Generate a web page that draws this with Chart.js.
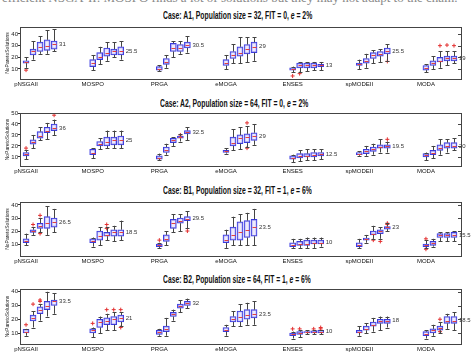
<!DOCTYPE html>
<html><head><meta charset="utf-8">
<script src="https://cdn.jsdelivr.net/npm/chart.js@4.4.0/dist/chart.umd.min.js"></script>
<style>
body{margin:0;background:#fff;width:474px;height:356px;overflow:hidden;position:relative}
.title{position:absolute;white-space:nowrap;font-family:'Liberation Sans Narrow','Liberation Sans',Arial,sans-serif;font-weight:bold;font-size:10px;color:#111;transform-origin:left center}
.cv{position:absolute;left:0}
#toptext{position:absolute;left:2px;top:-10px;white-space:nowrap;font-family:'Liberation Serif',serif;font-size:13px;color:#888}
</style></head><body>
<div id="toptext">efficient NSGA-II: MOSPO finds a lot of solutions but they may not adapt to the chain.</div>
<script>
// ---------- categories & labels ----------
const CATEGORIES = ["pNSGAII","MOSPO","PRGA","eMOGA","ENSES","spMODEII","MODA"];
const Y_TITLE = "NoParetoSolutions";
const TITLES = [
  ["Case: A1, Population size = 32, FIT = 0, ","e"," = 2%"],
  ["Case: A2, Population size = 64, FIT = 0, ","e"," = 2%"],
  ["Case: B1, Population size = 32, FIT = 1, ","e"," = 6%"],
  ["Case: B2, Population size = 64, FIT = 1, ","e"," = 6%"]
];
const TICKS_A1 = [10,20,30,40];
const TICKS_A2 = [10,20,30,40,50];
const TICKS_B1 = [10,20,30,40];
const TICKS_B2 = [10,20,30,40];

// ---------- A1 (5 boxes per algorithm) ----------
const A1_lo  = [11,18,23,23,25, 9,14,17,20,18, 8,11,20,23,24, 10,15,15,16,17, 7,7,8,9,9, 10,11,15,16,17, 7,10,11,13,15];
const A1_q1  = [15,22,25,26,27, 12,18,21,22,22, 9,14,25,25,28, 13,19,21,23,24, 9,11,11,11,12, 13,15,19,21,23, 9,13,16,17,17];
const A1_med = [16,25,29,30,31, 15,20,24,25,25.5, 10,16,28,28,30.5, 15,22,24,27,29, 10,13,13,13,13, 14,17,22,23,25.5, 11,15,17,19,19];
const A1_q3  = [17,27,33,35,34, 18,24,28,27,29, 12,19,32,31,33, 18,25,29,31,33, 11,15,15,15,14, 15,19,24,25,28, 13,17,20,21,21];
const A1_hi  = [20,34,38,43,44, 22,29,33,33,34, 13,22,34,34,38, 22,31,37,37,37, 12,16,16,16,16, 18,23,26,27,31, 14,21,25,25,25];
const A1_out = [[0,0,9],[4,0,4],[4,1,6],[5,4,16.5],[6,2,30],[6,3,30.5],[6,4,30]];
const A1_note = ["31","25.5","30.5","29","13","25.5","19"];

// ---------- A2 ----------
const A2_lo  = [8,18,25,26,30, 9,17,18,18,18, 7,12,20,24,25, 13,16,17,19,21, 5,6,7,7,8, 11,11,12,14,14, 7,9,12,14,16];
const A2_q1  = [11,21.5,27,32,34, 12,20,20,21,21, 8,14,23,27,31, 14,20,22,23,25, 8,9,10,10,11, 12,13,15,18,18, 10,12,16,18,18];
const A2_med = [12.5,24,29,34,36, 14,22,24,25,25, 9,16,25,28,32.5, 15,23,27,28,29, 9,11,11,12,12.5, 13,15,17,19,19.5, 12,14,18,20,20];
const A2_q3  = [14,25.5,33,37,40, 17,24,28,28,29, 11,19,27,29,34, 16,28,30,31,32, 11,13,13,14,14, 14,17,19,21,21, 13,16,21,23,23];
const A2_hi  = [16,30,37,41,44, 18,27,34,34,34, 13,22,28,31,37, 18,35,37,38,40, 12,16,17,17,17, 15,20,22,26,24, 14,20,26,26,27];
const A2_out = [[0,0,18],[0,4,48],[2,3,30],[3,3,41],[3,3,18],[5,4,26]];
const A2_note = ["36","25","32.5","29","12.5","19.5","20"];

// ---------- B1 ----------
const B1_lo  = [9,17,19,17,19, 8,9,13,12,13, 7,9,19,20,22, 7,9,9,9,9, 7,7,7,7,8, 7,11,14,14,20, 7,8,12,12,12];
const B1_q1  = [11,19,22,22,23, 11,13,16,16,16, 8,12,22,26,28, 11,13,13,15,16, 8,9,9,10,10, 8,13,17,18,21.5, 8,9,15,15,15];
const B1_med = [12,20,24,26,27, 12,16,17,19,19, 9,14,26,28,29.5, 13,17,19,21,23, 9,10,10,11,11, 9.5,14,18,20,23, 9,11,17,17,17];
const B1_q3  = [14,21,26,31,30, 14,20,19,21,21, 10,17,29,30,31, 17,23,27,28,29, 11,12,13,13,13, 11,14.5,20,21,23.5, 10,12,18,18,19];
const B1_hi  = [18,23,30,39,37, 15,23,23,24,28, 11,20,33,33,35, 21,31,33,34,37, 14,14,15,15,15, 14,17,24,23,26, 13,14,19,19,20];
const B1_out = [[0,1,25],[0,2,32],[0,2,18],[1,2,25],[1,2,22],[2,0,13],[2,4,20],[5,2,13],[5,3,12],[5,4,25],[5,4,26],[6,0,14],[6,0,6]];
const B1_note = ["26.5","18.5","29.5","23.5","10","23","15.5"];

// ---------- B2 ----------
const B2_lo  = [8,14,19,22,24, 7,10,12,12,15, 8,8,19,25,28, 8,15,15,16,16, 6,7,9,9,9, 8,10,11,12,14, 6,8,10,13,12];
const B2_q1  = [10,18.7,24,27,30, 10,14,16,16,18, 9,11,22,28,30, 11,18,18,20,21, 8,9,10,10,10, 10,12,15,17,17, 8,10,12,17,17];
const B2_med = [11,21,27,30,33, 12,18,19,20,21, 11,13,24,30,31.5, 12,20,22,23,23.5, 9,10,10.5,11,11, 11,13,16,19,19, 9,12,14,19,19];
const B2_q3  = [12.7,23,29,33,34, 13,20,21,22,23, 12,15,25,31,33, 14,22,26,27,27, 10,11,11,11.5,12, 12,15,18,20,20, 11,13,15,22,22];
const B2_hi  = [13,26,31,40,39, 14,22,24,25,25, 13,21,27,34,35, 16,26,31,32,33, 11,12,12,12,12, 15,17,21,22,22, 12,16,18,24,25];
const B2_out = [[0,0,16],[0,1,31],[0,2,34],[0,2,33],[1,0,17],[1,2,27],[1,3,27],[1,4,27],[1,4,14],[4,0,13],[4,1,13],[4,3,13],[4,4,13],[4,4,14],[6,2,20],[6,2,11]];
const B2_note = ["33.5","21","32","23.5","10","18","18.5"];

// ---------- layout (not data) ----------
const BOXES = 5, GROUP_STEP = 9.5, X_MIN = -0.86, X_MAX = 62;
const FRAME_L = 20, FRAME_R = 461, PAD_T = 5, XAXIS_H = 11, BAR_W = 6;
const PANELS = [
  {lo:A1_lo,q1:A1_q1,med:A1_med,q3:A1_q3,hi:A1_hi,out:A1_out,note:A1_note,ticks:TICKS_A1,yMin:1.4,yMax:46,top:27,bottom:79,title:TITLES[0],tx:163,tw:149,ty:16},
  {lo:A2_lo,q1:A2_q1,med:A2_med,q3:A2_q3,hi:A2_hi,out:A2_out,note:A2_note,ticks:TICKS_A2,yMin:1.7,yMax:50,top:113,bottom:166,title:TITLES[1],tx:160,tw:148,ty:104},
  {lo:B1_lo,q1:B1_q1,med:B1_med,q3:B1_q3,hi:B1_hi,out:B1_out,note:B1_note,ticks:TICKS_B1,yMin:0.8,yMax:42.3,top:202,bottom:256,title:TITLES[2],tx:163,tw:149,ty:191},
  {lo:B2_lo,q1:B2_q1,med:B2_med,q3:B2_q3,hi:B2_hi,out:B2_out,note:B2_note,ticks:TICKS_B2,yMin:2,yMax:42,top:289,bottom:344,title:TITLES[3],tx:163,tw:148,ty:280}
];

const boxPlugin = (p) => ({
  id:'boxparts',
  afterDatasetsDraw(chart){
    const {ctx, scales:{x,y}, chartArea:ca} = chart;
    ctx.save();
    ctx.lineWidth = 1;
    for (let g=0; g<CATEGORIES.length; g++){
      for (let b=0; b<BOXES; b++){
        const i = g*BOXES+b;
        const px = Math.round(x.getPixelForValue(g*GROUP_STEP+b))+0.5;
        const yl = y.getPixelForValue(p.lo[i]), y1 = y.getPixelForValue(p.q1[i]);
        const y3 = y.getPixelForValue(p.q3[i]), yh = y.getPixelForValue(p.hi[i]);
        ctx.strokeStyle = '#444';
        ctx.beginPath();
        ctx.moveTo(px, y1); ctx.lineTo(px, yl);
        ctx.moveTo(px, y3); ctx.lineTo(px, yh);
        ctx.moveTo(px-2, Math.round(yl)+0.5); ctx.lineTo(px+2, Math.round(yl)+0.5);
        ctx.moveTo(px-2, Math.round(yh)+0.5); ctx.lineTo(px+2, Math.round(yh)+0.5);
        ctx.stroke();
        const ym = Math.round(y.getPixelForValue(p.med[i]))+0.5;
        ctx.strokeStyle = '#e34040';
        ctx.beginPath();
        ctx.moveTo(px-BAR_W/2+1, ym); ctx.lineTo(px+BAR_W/2-1, ym);
        ctx.stroke();
      }
      const last = g*BOXES+BOXES-1;
      ctx.fillStyle = '#333';
      ctx.font = "6px 'Liberation Sans',Arial";
      ctx.textBaseline = 'middle'; ctx.textAlign = 'left';
      ctx.fillText(p.note[g], x.getPixelForValue(g*GROUP_STEP+BOXES-1)+5, y.getPixelForValue(p.med[last]));
    }
    // frame & right-side ticks
    ctx.strokeStyle = '#444';
    ctx.strokeRect(Math.round(ca.left)+0.5, Math.round(ca.top)+0.5, Math.round(ca.right-ca.left), Math.round(ca.bottom-ca.top));
    ctx.beginPath();
    p.ticks.forEach(v=>{
      const yy = Math.round(y.getPixelForValue(v))+0.5;
      ctx.moveTo(ca.right-3, yy); ctx.lineTo(ca.right, yy);
    });
    ctx.stroke();
    ctx.restore();
  }
});

function makePanel(p){
  const t = document.createElement('div');
  t.className = 'title';
  t.innerHTML = p.title[0] + '<i>' + p.title[1] + '</i>' + p.title[2];
  document.body.appendChild(t);
  const w = t.offsetWidth;
  t.style.left = p.tx + 'px';
  t.style.top = (p.ty - 6) + 'px';
  t.style.transform = 'scaleX(' + (p.tw / w) + ')';

  const cv = document.createElement('canvas');
  cv.className = 'cv';
  const h = p.bottom - p.top + PAD_T + XAXIS_H;
  cv.width = 474; cv.height = h;
  cv.style.width = '474px'; cv.style.height = h + 'px';
  cv.style.top = (p.top - PAD_T) + 'px';
  document.body.appendChild(cv);

  const boxes = [], outs = [];
  for (let g=0; g<CATEGORIES.length; g++)
    for (let b=0; b<BOXES; b++){
      const i = g*BOXES+b;
      boxes.push({x: g*GROUP_STEP+b, y: [p.q1[i], p.q3[i]]});
    }
  p.out.forEach(o => outs.push({x: o[0]*GROUP_STEP+o[1], y: o[2]}));

  new Chart(cv, {
    type:'bar',
    data:{datasets:[
      {type:'bar', data:boxes, backgroundColor:'rgba(226,220,248,0.6)', borderColor:'#3a3ae0', borderWidth:1, borderSkipped:false, barThickness:BAR_W, order:2},
      {type:'scatter', data:outs, pointStyle:'cross', pointRadius:2, borderColor:'#e33030', borderWidth:1, order:1}
    ]},
    options:{
      responsive:false, animation:false, devicePixelRatio:1,
      layout:{padding:{top:PAD_T, right:474-FRAME_R, left:0, bottom:0}},
      plugins:{legend:{display:false}, tooltip:{enabled:false}},
      scales:{
        x:{type:'linear', min:X_MIN, max:X_MAX, offset:false,
           afterBuildTicks(s){ s.ticks = CATEGORIES.map((c,i)=>({value:i*GROUP_STEP})); },
           ticks:{callback:function(v,i){ return CATEGORIES[i]; }, autoSkip:false, maxRotation:0, minRotation:0,
                  font:{size:6, family:"'Liberation Sans Narrow', Arial"}, color:'#111', padding:2},
           grid:{display:false, drawTicks:false, offset:false}, border:{display:false},
           afterFit(s){ s.height = XAXIS_H; }},
        y:{min:p.yMin, max:p.yMax,
           afterBuildTicks(s){ s.ticks = p.ticks.map(v=>({value:v})); },
           ticks:{font:{size:6, family:"Arial, 'Liberation Sans'"}, color:'#222', padding:0},
           grid:{drawOnChartArea:false, tickLength:2, color:'#333'}, border:{display:false},
           title:{display:true, text:Y_TITLE, font:{size:5, family:"Arial, 'Liberation Sans'"}, color:'#222', padding:{top:5,bottom:0}},
           afterFit(s){ s.width = FRAME_L; }}
      }
    },
    plugins:[boxPlugin(p)]
  });
}
PANELS.forEach(makePanel);
</script>
</body></html>
